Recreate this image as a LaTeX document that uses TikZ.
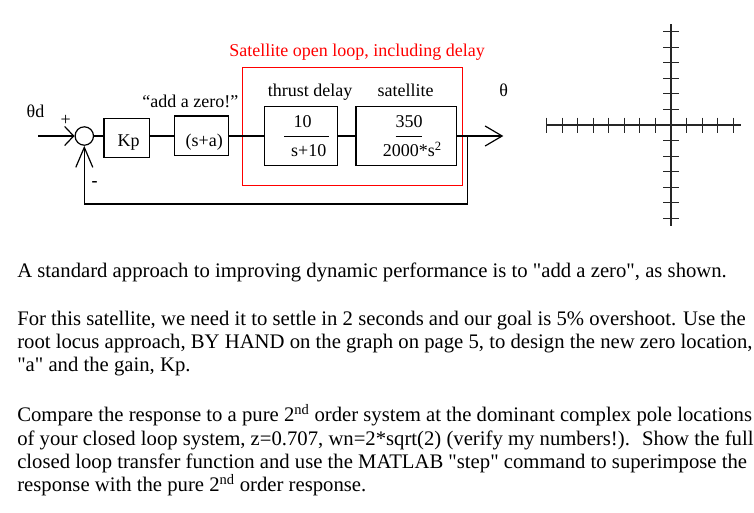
\documentclass[tikz,border=0pt]{standalone}
\usepackage{fontspec}
\setmainfont{Liberation Serif}[Ligatures=TeXOff]
\usetikzlibrary{arrows.meta}

\begin{document}
\begin{tikzpicture}[x=1pt, y=-1pt, line width=1.2pt,
  block/.style={draw, inner sep=0pt},
  lbl/.style={font=\fontsize{18}{20}\selectfont, inner sep=0pt, anchor=base},
  txt/.style={font=\fontsize{20.7}{23}\selectfont, inner sep=0pt, anchor=base west},
  axis/.style={black!85, line width=1.1pt}]

\useasboundingbox (0,0) rectangle (754,512);

% summing junction
\node[draw, circle, minimum size=18.4pt, inner sep=0pt] (sum) at (84.3,136) {};
\coordinate (in) at (38.3,136);
\node[lbl] (thd) at (35.5,117.3) {θd};
\node[lbl] (plus) at (65.8,125.5) {+};
\node[lbl, font=\fontsize{18}{20}\bfseries] (minus) at (94.5,186.5) {-};

% blocks
\node[block, minimum width=45.3pt, minimum height=39.4pt] (kp) at (126.7,138) {};
\node[lbl] (kptxt) at (128.7,146.7) {Kp};
\node[block, minimum width=54pt, minimum height=39.7pt] (zero) at (201.3,135.8) {};
\node[lbl] (zerotxt) at (204.2,146.7) {(s+a)};
\node[lbl] (zerolbl) at (190.3,107.3) {“add a zero!”};

% open loop box
\draw[red] (242.7,67.3) rectangle (462.3,185.3);
\node[lbl, text=red] (title) at (357,56.7) {Satellite open loop, including delay};

\node[block, minimum width=73.4pt, minimum height=59pt] (delay) at (301,136.2) {};
\node[lbl] (delaylbl) at (310,96.7) {thrust delay};
\node[lbl] (num1) at (302.7,127.7) {10};
\draw (284,136.7) -- (329.3,136.7);
\node[lbl] (den1) at (308.8,156.7) {s+10};

\node[block, minimum width=100.7pt, minimum height=59pt] (sat) at (406.3,136.2) {};
\node[lbl] (satlbl) at (405.7,96.7) {satellite};
\node[lbl] (num2) at (409,127.7) {350};
\draw (395.7,136.7) -- (422.3,136.7);
\node[lbl] (den2) at (412.2,156.7) {2000*s\textsuperscript{2}};

\node[lbl] (th) at (503.8,96.7) {θ};

% connectors
\coordinate (pick) at (467.3,136);
\coordinate (out) at (503.3,136);
\coordinate (fb) at (84.3,204);
\draw[-{Straight Barb[length=9pt,width=19pt]}] (in) -- (sum);
\draw (sum.east) -- (sum.east -| kp.west);
\draw (kp.east |- sum.east) -- (sum.east -| zero.west);
\draw (zero.east |- sum.east) -- (sum.east -| delay.west);
\draw (delay.east |- sum.east) -- (sum.east -| sat.west);
\draw[-{Straight Barb[length=17pt,width=20pt]}] (sat.east |- out) -- (out);
\draw[-{Straight Barb[length=20pt,width=17pt]}] (pick) |- (fb) -- (sum);

% axes
\draw[axis] (546.7,125) -- (740.7,125);
\draw[axis] (671,24) -- (671,225.7);
\foreach \i in {-8,...,-1,1,2,3,4}
  \draw[axis] ({671+15.56*\i},117.5) -- ({671+15.56*\i},132.5);
\foreach \i in {-6,...,-1,1,2,3,4,5,6}
  \draw[axis] (663.3,{125+15.56*\i}) -- (679,{125+15.56*\i});

% text
\node[txt] (l1) at (16.7,277.3) {A standard approach to improving dynamic performance is to "add a zero", as shown.};
\node[txt] (l2) at (16.7,325) {For this satellite, we need it to settle in 2 seconds and our goal is 5\% overshoot. Use the};
\node[txt] (l3) at (16.7,348.3) {root locus approach, BY HAND on the graph on page 5, to design the new zero location,};
\node[txt] (l4) at (16.7,371.7) {"a" and the gain, Kp.};
\node[txt] (l5) at (16.7,421.7) {Compare the response to a pure 2\textsuperscript{nd} order system at the dominant complex pole locations};
\node[txt] (l6) at (16.7,445) {of your closed loop system, z=0.707, wn=2*sqrt(2) (verify my numbers!).~ Show the full};
\node[txt] (l7) at (16.7,468.3) {closed loop transfer function and use the MATLAB "step" command to superimpose the};
\node[txt] (l8) at (16.7,491.7) {response with the pure 2\textsuperscript{nd} order response.};

\end{tikzpicture}
\end{document}
